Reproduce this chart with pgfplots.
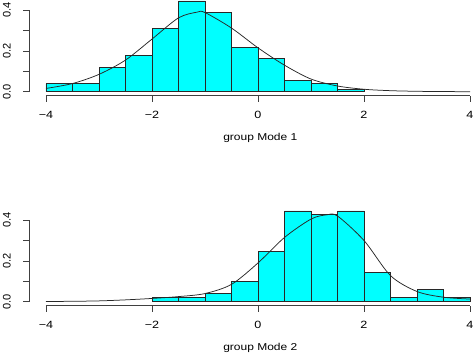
\documentclass[border=0pt]{standalone}
\usepackage{fontspec}
\setmainfont{Liberation Sans}
\newfontfamily\stretchfont{Liberation Sans}[FakeStretch=1.2]
\usepackage{pgfplots}
\pgfplotsset{compat=1.18}
\definecolor{rcyan}{RGB}{0,255,255}
\definecolor{rline}{RGB}{40,40,40}
\pgfplotstableread{
x y
-4.0 0.04
-3.5 0.04
-3.0 0.12
-2.5 0.176
-2.0 0.31
-1.5 0.445
-1.0 0.39
-0.5 0.216
0.0 0.162
0.5 0.056
1.0 0.041
1.5 0.013
2.0 0
}\histA
\pgfplotstableread{
x y
-4.0 0.016
-3.5 0.040
-3.0 0.085
-2.5 0.155
-2.0 0.258
-1.5 0.362
-1.15 0.390
-1.0 0.388
-0.5 0.312
0.0 0.215
0.5 0.130
1.0 0.062
1.5 0.028
2.0 0.012
2.5 0.005
3.0 0.002
3.5 0.0006
4.0 0.0002
}\curveA
\pgfplotstableread{
x y
-2.0 0.02
-1.5 0.02
-1.0 0.039
-0.5 0.10
0.0 0.245
0.5 0.445
1.0 0.426
1.5 0.445
2.0 0.143
2.5 0.02
3.0 0.06
3.5 0.02
4.0 0
}\histB
\pgfplotstableread{
x y
-4.0 0.001
-3.5 0.002
-3.0 0.004
-2.5 0.009
-2.0 0.016
-1.5 0.025
-1.0 0.040
-0.5 0.085
0.0 0.190
0.5 0.315
1.0 0.405
1.3 0.426
1.5 0.420
2.0 0.300
2.5 0.128
3.0 0.050
3.5 0.022
4.0 0.013
}\curveB
\pgfplotsset{
  rhist/.style={
    scale only axis, width=457.92pt, height=99.96pt,
    xmin=-4.32, xmax=4.32, ymin=-0.02, ymax=0.47,
    axis x line*=bottom, axis y line*=left, axis line style={draw=none},
    xtick={-4,-2,0,2,4}, xticklabels={−4,−2,0,2,4},
    ytick={0,0.1,0.2,0.3,0.4}, yticklabels={0.0,,0.2,,0.4},
    tick align=outside,
    major tick length=6pt,
    tick style={black!75, line width=0.7pt},
    xticklabel style={font=\stretchfont\fontsize{10.5}{12}\selectfont, anchor=north, inner sep=0pt},
    yticklabel style={rotate=90, font=\fontsize{11}{13}\selectfont, anchor=south, inner sep=0pt},
    xticklabel shift=9.5pt,
    yticklabel shift=12pt,
    xlabel style={font=\stretchfont\fontsize{10}{12}\selectfont, at={(axis description cs:0.505,0)}, anchor=base, yshift=-44.9pt, inner sep=0pt},
  }
}
\begin{document}
\begin{tikzpicture}[x=1pt,y=1pt]
\path[use as bounding box] (0,0) rectangle (474,354);
\begin{axis}[rhist, at={(29.04pt,258.22pt)}, anchor=south west, xlabel={group Mode 1}]
  \addplot[ybar interval, fill=rcyan, draw=rline, line width=0.75pt] table[x=x,y=y] {\histA};
  \addplot[smooth, rline, line width=0.75pt] table[x=x,y=y] {\curveA};
  \draw[black!75, line width=0.7pt] (axis cs:-4,-0.02) -- (axis cs:4,-0.02);
  \draw[black!75, line width=0.7pt] (axis cs:-4.32,0) -- (axis cs:-4.32,0.4);
\end{axis}
\begin{axis}[rhist, at={(29.04pt,48.22pt)}, anchor=south west, xlabel={group Mode 2}]
  \addplot[ybar interval, fill=rcyan, draw=rline, line width=0.75pt] table[x=x,y=y] {\histB};
  \addplot[smooth, rline, line width=0.75pt] table[x=x,y=y] {\curveB};
  \draw[black!75, line width=0.7pt] (axis cs:-4,-0.02) -- (axis cs:4,-0.02);
  \draw[black!75, line width=0.7pt] (axis cs:-4.32,0) -- (axis cs:-4.32,0.4);
\end{axis}
\end{tikzpicture}
\end{document}
